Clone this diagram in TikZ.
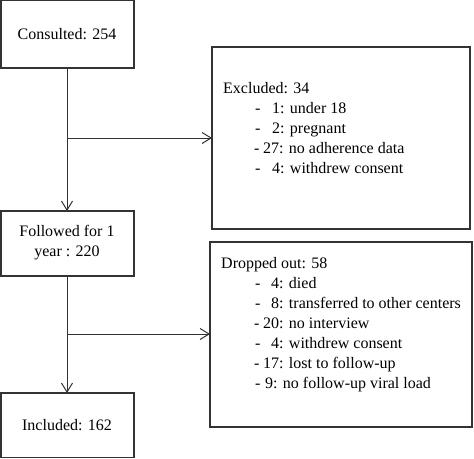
\documentclass[tikz,border=0pt]{standalone}
\usepackage{fontspec}
\setmainfont{Liberation Serif}
\usetikzlibrary{arrows.meta}
\definecolor{ln}{HTML}{333333}
\tikzset{
  box/.style={draw=ln, line width=1.2pt},
  txt/.style={anchor=base west, inner sep=0pt, font=\fontsize{16}{20}\selectfont, text=black},
  ctxt/.style={inner sep=0pt, font=\fontsize{16}{20}\selectfont, text=black, align=center},
  conn/.style={draw=ln, line width=1pt, -{Straight Barb[length=9pt,width=11pt,line width=1pt]}},
  trunk/.style={draw=ln, line width=1pt}
}
\begin{document}
\begin{tikzpicture}[x=1pt,y=-1pt]
\useasboundingbox (0,0) rectangle (474,458);
% boxes
\draw[box] (1,0.6) rectangle (134,68);
\node[ctxt] (cons) at (67,34) {Consulted: 254};
\coordinate (consB) at (67,68);

\draw[box] (212,47) rectangle (470,229);
\coordinate (exclL) at (212,138);

\draw[box] (1,211) rectangle (134,276);
\node[ctxt] (foll) at (67,243) {Followed for 1\\year : 220};
\coordinate (follT) at (67,211);
\coordinate (follB) at (67,276);

\draw[box] (210,242) rectangle (472,427);
\coordinate (dropL) at (210,334);

\draw[box] (1,393) rectangle (134,457.4);
\node[ctxt] (incl) at (67,425) {Included: 162};
\coordinate (inclT) at (67,393);

% Excluded text
\node[txt] (e0) at (223,93) {Excluded: 34};
\node[txt] (e1d) at (255,113) {-};
\node[txt] (e1) at (272,113) {1: under 18};
\node[txt] (e2d) at (255,133) {-};
\node[txt] (e2) at (272,133) {2: pregnant};
\node[txt] (e3d) at (254,153) {-};
\node[txt] (e3) at (263,153) {27: no adherence data};
\node[txt] (e4d) at (255,173) {-};
\node[txt] (e4) at (272,173) {4: withdrew consent};

% Dropped text
\node[txt] (d0) at (221,268) {Dropped out: 58};
\node[txt] (d1d) at (255,288) {-};
\node[txt] (d1) at (271,288) {4: died};
\node[txt] (d2d) at (255,308) {-};
\node[txt] (d2) at (271,308) {8: transferred to other centers};
\node[txt] (d3d) at (254,328) {-};
\node[txt] (d3) at (263,328) {20: no interview};
\node[txt] (d4d) at (255,348) {-};
\node[txt] (d4) at (271,348) {4: withdrew consent};
\node[txt] (d5d) at (254,368) {-};
\node[txt] (d5) at (263,368) {17: lost to follow-up};
\node[txt] (d6d) at (255,388) {-};
\node[txt] (d6) at (265,388) {9: no follow-up viral load};

% connectors
\coordinate (j1) at (67,138);
\coordinate (j2) at (67,334);
\draw[conn] (consB) -- (follT);
\draw[conn] (j1) -- (exclL);
\draw[conn] (follB) -- (inclT);
\draw[conn] (j2) -- (dropL);
\end{tikzpicture}
\end{document}
